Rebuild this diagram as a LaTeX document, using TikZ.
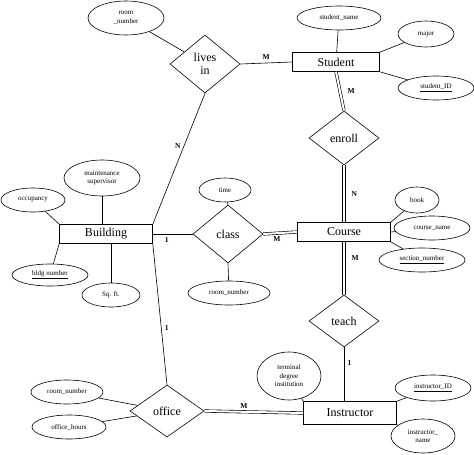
\documentclass[tikz,border=0pt]{standalone}
\usepackage{fontspec}
\setmainfont{Liberation Serif}
\usetikzlibrary{shapes.geometric}
\begin{document}
\begin{tikzpicture}[x=1pt,y=-1pt,
 ent/.style={draw,rectangle,minimum width=#1,minimum height=19,inner sep=0,font=\fontsize{12}{13}\selectfont},
 att/.style n args={2}{draw,ellipse,minimum width=#1,minimum height=#2,inner sep=0,align=center,font=\fontsize{7}{8.5}\selectfont},
 lab/.style={font=\fontsize{7.5}{8}\selectfont\bfseries},
 dbl/.style={double,double distance=2pt},
 line width=0.6pt]
\useasboundingbox (0,0) rectangle (474,455);
% entities
\node[ent=87] (student) at (336,62) {Student};
\node[ent=93] (building) at (106,234) {Building};
\node[ent=93] (course) at (344,232) {Course};
\node[ent=93,minimum height=23] (instr) at (350,413) {Instructor};
% relationships
\node[draw,diamond,minimum width=70,minimum height=58,inner sep=0,align=center,font=\fontsize{12}{13}\selectfont] (lives) at (205,64) {lives\\in};
\node[draw,diamond,minimum width=70,minimum height=54,inner sep=0,font=\fontsize{12}{13}\selectfont] (enroll) at (344,138) {enroll};
\node[draw,diamond,minimum width=70,minimum height=58,inner sep=0,font=\fontsize{12}{13}\selectfont] (class) at (228,234) {class};
\node[draw,diamond,minimum width=70,minimum height=52,inner sep=0,font=\fontsize{12}{13}\selectfont] (teach) at (344,321) {teach};
\node[draw,diamond,minimum width=74,minimum height=52,inner sep=0,font=\fontsize{12}{13}\selectfont] (office) at (167,411) {office};
% attributes
\node[att={76}{34}] (rn1) at (126,18) {room\\\_number};
\node[att={84}{24}] (sname) at (339,18) {student\_name};
\node[att={56}{26}] (major) at (426,34) {major};
\node[att={76}{24}] (sid) at (436,88) {\underline{student\_ID}};
\node[att={64}{24}] (occ) at (33,200) {occupancy};
\node[att={76}{36}] (maint) at (102,178) {maintenance\\supervisor};
\node[att={52}{24}] (time) at (225,190) {time};
\node[att={44}{26}] (book) at (417,200) {book};
\node[att={76}{24}] (cname) at (432,228) {course\_name};
\node[att={86}{24}] (secn) at (422,260) {\underline{section\_number}};
\node[att={76}{22}] (bldg) at (50,275) {\underline{bldg number}};
\node[att={58}{24}] (sq) at (111,295) {Sq. ft.};
\node[att={82}{24}] (rn2) at (229,293) {room\_number};
\node[att={64}{48}] (term) at (289,376) {terminal\\degree\\institution};
\node[att={76}{26}] (iid) at (433,388) {\underline{instructor\_ID}};
\node[att={64}{34}] (iname) at (423,436) {instructor\_\\name};
\node[att={72}{24}] (rn3) at (67,392) {room\_number};
\node[att={74}{24}] (oh) at (69,427) {office\_hours};
% attribute lines
\draw (rn1) -- (lives);
\draw (sname) -- (student);
\draw (major) -- (student.north east);
\draw (sid) -- (student.south east);
\draw (occ) -- (building.north west);
\draw (maint) -- (maint|-building.north);
\draw (bldg) -- (building.south west);
\draw (sq) -- (sq|-building.south);
\draw (time) -- (class.north);
\draw (rn2) -- (class.south);
\draw (book) -- (course.north east);
\draw (cname) -- (course.east);
\draw (secn) -- (course.south east);
\draw (term) -- (instr.north west);
\draw (iid) -- (instr.north east);
\draw (iname) -- (instr.south east);
\draw (rn3) -- (office);
\draw (oh) -- (office);
% relationship lines
\draw (lives.east) -- node[lab,above] {M} (student.west);
\draw (lives.south) -- node[lab,left,pos=0.4] {N} (building.north east);
\draw[dbl] (student.south) -- node[lab,right,xshift=4pt] {M} (enroll.north);
\draw[dbl] (enroll.south) -- node[lab,right,xshift=4pt] {N} (course.north);
\draw (building.east) -- node[lab,below,pos=0.35] {1} (class.west);
\draw[dbl] (class.east) -- node[lab,below,pos=0.4] {M} (course.west);
\draw[dbl] (course.south) -- node[lab,right,xshift=4pt,pos=0.3] {M} (teach.north);
\draw (teach.south) -- node[lab,right,pos=0.3] {1} (teach.south|-instr.north);
\draw (office.north) -- node[lab,right,pos=0.4] {1} (building.south east);
\draw[dbl] (office.east) -- node[lab,above,pos=0.4] {M} (instr.west);
\end{tikzpicture}
\end{document}
